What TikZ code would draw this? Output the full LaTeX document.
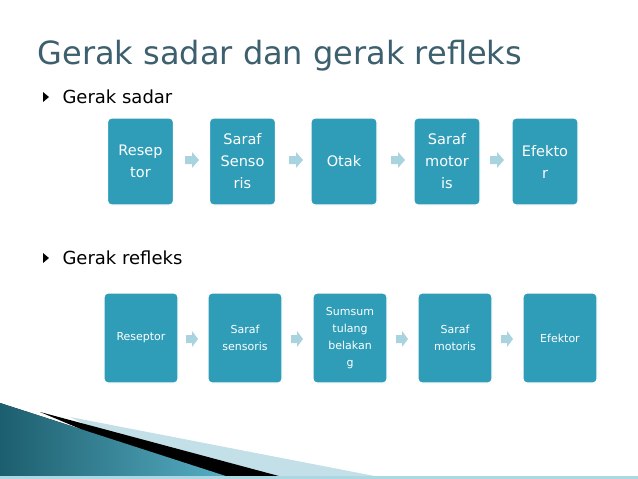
\documentclass[tikz,border=0pt]{standalone}
\usepackage{fontspec}
\setmainfont{DejaVu Sans}
\begin{document}
\begin{tikzpicture}[x=1pt,y=-1pt,
 bx/.style={draw=white,line width=1.2pt,fill=boxc,rounded corners=4pt,text=white,align=center,font=\fontsize{14.5}{22}\selectfont,inner sep=0pt},
 bxs/.style={bx,font=\fontsize{11}{17}\selectfont},
 ar/.style={fill=arc,draw=none},
 tri/.style={fill=black,draw=none}]
\definecolor{boxc}{HTML}{2F9DB8}
\definecolor{arc}{HTML}{A9D3DF}
\definecolor{titc}{HTML}{3D5F6E}
\useasboundingbox (0,0) rectangle (638,479);
\fill[white] (0,0) rectangle (638,479);
% swoosh
\fill[arc!70] (70,417) -- (390,479) -- (200,479) -- cycle;
\fill[black] (40,412) -- (290,479) -- (200,479) -- cycle;
\fill[left color=boxc!60!black,right color=boxc!80!white] (0,403) -- (235,479) -- (0,479) -- cycle;
\fill[boxc!40] (0,476) rectangle (638,479);
\node[anchor=west,text=titc,font=\fontsize{32}{32}\selectfont] (t) at (34,56) {Gerak sadar dan gerak refleks};
\fill[tri] (43,92) -- (49,97) -- (43,102) -- cycle;
\node[anchor=west,font=\fontsize{18}{18}\selectfont] (l1) at (59,97) {Gerak sadar};
\fill[tri] (43,253) -- (49,258) -- (43,263) -- cycle;
\node[anchor=west,font=\fontsize{18}{18}\selectfont] (l2) at (59,258) {Gerak refleks};
% row 1
\foreach \n/\x/\t in {a1/140.5/{Resep\\tor},a2/242.5/{Saraf\\Senso\\ris},a3/344/{Otak},a4/447/{Saraf\\motor\\is},a5/545/{Efekto\\r}}
  \node[bx,minimum width=66pt,minimum height=87pt] (\n) at (\x,161.5) {\t};
\foreach \x in {192,296,398,497}
  \fill[ar] (\x-7,156) -- (\x,156) -- (\x,152) -- (\x+7,160) -- (\x,168) -- (\x,164) -- (\x-7,164) -- cycle;
% row 2
\foreach \n/\x/\t in {c1/141/{Reseptor},c2/245/{Saraf\\sensoris},c3/350/{Sumsum\\tulang\\belakan\\g},c4/455/{Saraf\\motoris},c5/560/{Efektor}}
  \node[bxs,minimum width=74pt,minimum height=90pt] (\n) at (\x,338) {\t};
\foreach \x in {192,297,402,507}
  \fill[ar] (\x-6,335) -- (\x,335) -- (\x,331) -- (\x+6,339) -- (\x,347) -- (\x,343) -- (\x-6,343) -- cycle;
\end{tikzpicture}
\end{document}
